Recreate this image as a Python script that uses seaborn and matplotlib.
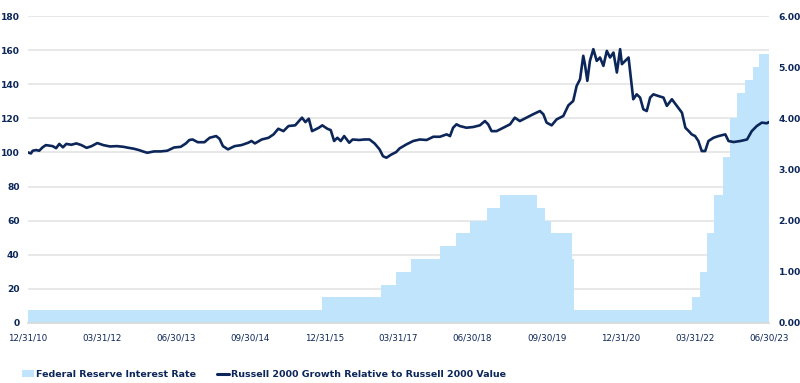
import numpy as np
import pandas as pd
import matplotlib
matplotlib.use("Agg")
import matplotlib.pyplot as plt
import matplotlib.dates as mdates
from matplotlib.patches import Patch
from matplotlib.lines import Line2D
from matplotlib.ticker import FuncFormatter
import seaborn as sns

# Russell 2000 Growth relative to Russell 2000 Value (left axis)
line_dates = [
    "2010-12-31", "2011-01-18", "2011-01-29", "2011-02-19", "2011-03-10", "2011-03-31", "2011-04-20", "2011-06-01", "2011-06-22", "2011-07-12",
    "2011-08-03", "2011-08-24", "2011-09-24", "2011-10-25", "2011-11-25", "2011-12-27", "2012-01-27", "2012-03-02", "2012-04-08", "2012-05-19",
    "2012-06-30", "2012-08-10", "2012-09-11", "2012-10-12", "2012-11-13", "2012-12-14", "2013-01-04", "2013-02-14", "2013-03-27", "2013-05-07",
    "2013-06-18", "2013-07-29", "2013-08-30", "2013-09-20", "2013-10-10", "2013-11-11", "2013-12-22", "2014-01-23", "2014-03-04", "2014-03-25",
    "2014-04-15", "2014-05-16", "2014-06-26", "2014-08-07", "2014-09-18", "2014-10-08", "2014-10-29", "2014-12-10", "2015-01-21", "2015-02-21",
    "2015-03-22", "2015-04-23", "2015-05-24", "2015-07-04", "2015-08-15", "2015-09-05", "2015-09-26", "2015-10-16", "2015-11-06", "2015-11-27",
    "2015-12-18", "2016-01-18", "2016-02-08", "2016-02-29", "2016-03-20", "2016-04-10", "2016-05-01", "2016-06-01", "2016-06-22", "2016-08-02",
    "2016-09-03", "2016-10-04", "2016-11-04", "2016-12-05", "2016-12-26", "2017-01-16", "2017-02-16", "2017-03-17", "2017-04-08",
    "2017-05-19", "2017-06-30", "2017-08-10", "2017-09-21", "2017-11-01", "2017-12-12", "2018-01-22", "2018-02-12", "2018-03-03", "2018-03-24",
    "2018-04-13", "2018-05-24", "2018-07-04", "2018-08-15", "2018-09-15", "2018-10-05", "2018-10-26", "2018-11-26", "2019-01-07", "2019-02-17",
    "2019-03-18", "2019-04-18", "2019-05-29", "2019-07-09", "2019-08-20", "2019-09-10", "2019-09-30", "2019-10-31", "2019-12-01", "2020-01-11",
    "2020-02-11", "2020-03-12", "2020-04-02", "2020-04-23", "2020-05-13", "2020-05-23", "2020-06-07", "2020-06-23", "2020-07-14", "2020-08-04",
    "2020-08-24", "2020-09-14", "2020-10-05", "2020-10-25", "2020-11-15", "2020-12-06", "2020-12-26", "2021-01-06", "2021-01-26", "2021-02-16",
    "2021-03-03", "2021-03-17", "2021-04-07", "2021-04-28", "2021-05-18", "2021-06-08", "2021-06-29", "2021-07-19", "2021-08-19", "2021-09-19",
    "2021-10-10", "2021-11-10", "2021-12-11", "2022-01-11", "2022-02-01", "2022-02-22", "2022-03-12", "2022-04-02", "2022-04-22", "2022-05-13",
    "2022-06-03", "2022-06-23", "2022-07-24", "2022-08-24", "2022-10-05", "2022-10-25", "2022-11-25", "2023-01-06", "2023-02-16", "2023-03-17",
    "2023-04-17", "2023-05-18", "2023-06-18", "2023-06-30",
]
line_values = [
    100, 99.4, 101, 101.4, 101, 103, 104.3, 103.7, 102.5, 105,
    103, 105, 104.5, 105.3, 104.3, 102.7, 103.7, 105.5, 104.3, 103.5,
    103.7, 103.3, 102.7, 102.2, 101.4, 100.4, 99.8, 100.6, 100.6, 101,
    102.9, 103.3, 105.3, 107.3, 107.6, 106, 106, 108.6, 109.6, 108,
    103.7, 101.8, 103.7, 104.3, 105.7, 106.7, 105.3, 107.6, 108.6, 110.6,
    113.9, 112.5, 115.5, 115.9, 120.4, 117.8, 119.8, 112.5, 113.5, 114.5,
    115.9, 113.9, 113.1, 106.7, 108.6, 106.7, 109.6, 105.7, 107.6, 107.3,
    107.6, 107.6, 105.3, 101.8, 97.8, 96.9, 98.8, 100.2, 102.4,
    104.7, 106.7, 107.6, 107.3, 109.2, 109.2, 110.6, 109.6, 114.5, 116.5,
    115.5, 114.5, 114.9, 115.9, 118.4, 116.5, 112.5, 112.5, 114.5, 116.5,
    120.4, 118.4, 120.4, 122.4, 124.3, 122.4, 117.5, 115.9, 119.4, 121.4,
    127.6, 130.2, 139, 142.9, 156.7, 151.8, 142, 153.7, 160.6, 153.7,
    155.7, 150.8, 159.6, 155.7, 158.6, 146.9, 160.6, 151.8, 153.7, 155.7,
    142.9, 131.2, 134.1, 132.2, 125.3, 124.3, 132.2, 134.1, 133.1, 132.2,
    127.3, 131.2, 127.3, 123.3, 114.5, 112.5, 110.6, 109.6, 106.7, 100.8,
    100.8, 106.7, 108.6, 109.6, 110.6, 106.7, 106.1, 106.7, 107.6, 112.5,
    115.5, 117.5, 117.1, 117.8,
]

# Federal funds target rate (upper bound), right axis
fed_dates = [
    "2010-12-31", "2015-12-16", "2016-12-14", "2017-03-15", "2017-06-14", "2017-12-13",
    "2018-03-21", "2018-06-13", "2018-09-26", "2018-12-19", "2019-07-31", "2019-09-18",
    "2019-10-30", "2020-03-03", "2020-03-15", "2022-03-16", "2022-05-04", "2022-06-15",
    "2022-07-27", "2022-09-21", "2022-11-02", "2022-12-14", "2023-02-01", "2023-03-22",
    "2023-05-03", "2023-06-30",
]
fed_rates = [
    0.25, 0.50, 0.75, 1.00, 1.25, 1.50,
    1.75, 2.00, 2.25, 2.50, 2.25, 2.00,
    1.75, 1.25, 0.25, 0.50, 1.00, 1.75,
    2.50, 3.25, 4.00, 4.50, 4.75, 5.00,
    5.25, 5.25,
]

xtick_dates = ["2010-12-31", "2012-03-31", "2013-06-30", "2014-09-30", "2015-12-31", "2017-03-31",
               "2018-06-30", "2019-09-30", "2020-12-31", "2022-03-31", "2023-06-30"]
left_ticks = [0, 20, 40, 60, 80, 100, 120, 140, 160, 180]
right_ticks = [0, 1, 2, 3, 4, 5, 6]

NAVY = "#0c2659"
LIGHT = "#bfe4fb"
GRID = "#e6e6e6"

sns.set_theme(style="white")
plt.rcParams["font.family"] = ["Liberation Sans Narrow", "DejaVu Sans"]

line_df = pd.DataFrame({"date": pd.to_datetime(line_dates), "value": line_values})
fed_df = pd.DataFrame({"date": pd.to_datetime(fed_dates), "rate": fed_rates})

fig, ax1 = plt.subplots(figsize=(8, 3.83), dpi=100)
ax2 = ax1.twinx()
fig.subplots_adjust(left=0.035, right=0.961, top=0.958, bottom=0.157)

# area (right axis) sits behind the line
ax2.fill_between(fed_df["date"], fed_df["rate"], step="post", color=LIGHT, lw=0)
ax2.set_ylim(0, 6)
ax2.set_yticks(right_ticks)
ax2.yaxis.set_major_formatter(FuncFormatter(lambda v, p: f"{v:.2f}"))
# horizontal gridlines for the left axis, drawn under the area
ax2.yaxis.remove_overlapping_locs = False
ax2.set_yticks(np.array(left_ticks[1:]) / 30, minor=True)
ax2.yaxis.grid(True, which="minor", color=GRID, lw=1.3)
ax2.yaxis.grid(False, which="major")
ax2.set_axisbelow(True)
ax2.tick_params(axis="y", which="both", length=0, pad=7, labelsize=6.6, labelcolor=NAVY)
for lab in ax2.get_yticklabels():
    lab.set_fontweight("bold")

ax1.set_zorder(ax2.get_zorder() + 1)
ax1.patch.set_visible(False)
sns.lineplot(data=line_df, x="date", y="value", ax=ax1, color=NAVY, lw=1.9)
ax1.set_ylim(0, 180)
ax1.set_yticks(left_ticks)
ax1.set_xlim(pd.Timestamp(line_dates[0]), pd.Timestamp(line_dates[-1]))
ax1.set_xticks(pd.to_datetime(xtick_dates))
ax1.xaxis.set_major_formatter(mdates.DateFormatter("%m/%d/%y"))
ax1.set_xlabel(""); ax1.set_ylabel("")
ax1.tick_params(axis="y", length=0, pad=6, labelsize=6.6, labelcolor=NAVY)
ax1.tick_params(axis="x", length=4, width=0.8, color="#d0d0d0", pad=4, labelsize=6.3, labelcolor=NAVY)
for lab in ax1.get_yticklabels():
    lab.set_fontweight("bold")

for ax in (ax1, ax2):
    for s in ax.spines.values():
        s.set_visible(False)
ax1.spines["bottom"].set_visible(True)
ax1.spines["bottom"].set_color("#d9d9d9")

handles = [Patch(facecolor=LIGHT, edgecolor="none"), Line2D([], [], color=NAVY, lw=2.2)]
labels = ["Federal Reserve Interest Rate", "Russell 2000 Growth Relative to Russell 2000 Value"]
fig.legend(handles, labels, loc="center", bbox_to_anchor=(0.33, 0.022), ncol=2, frameon=False,
           handlelength=1.3, handleheight=0.8, handletextpad=0.2, columnspacing=2.2,
           prop={"size": 6.8, "weight": "bold"}, labelcolor=NAVY)

plt.savefig("out.png", dpi=100)
plt.close()
